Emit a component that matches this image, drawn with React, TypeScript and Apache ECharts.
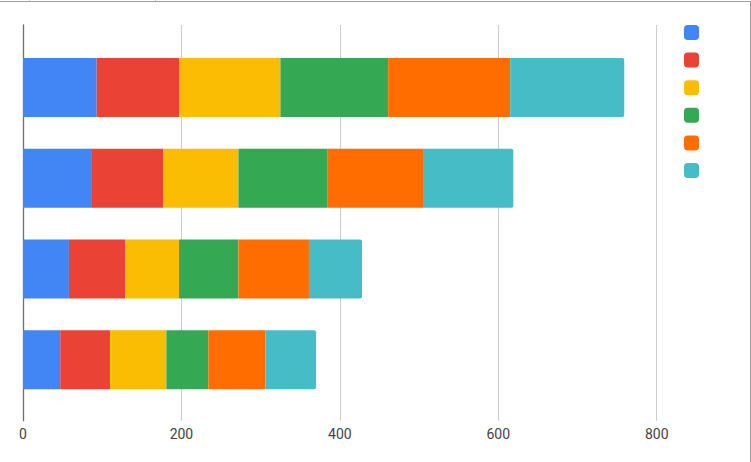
import React, { useEffect, useRef } from "react";
import * as echarts from "echarts";

const categories = ["Row 1", "Row 2", "Row 3", "Row 4"];
const seriesNames = ["Series 1", "Series 2", "Series 3", "Series 4", "Series 5", "Series 6"];
const seriesColors = ["#4285F4", "#EA4335", "#FBBC04", "#34A853", "#FF6D01", "#46BDC6"];
const series1 = [93, 86, 58, 47];
const series2 = [104, 91, 71, 63];
const series3 = [128, 95, 68, 71];
const series4 = [136, 112, 75, 53];
const series5 = [154, 121, 89, 72];
const series6 = [144, 114, 67, 64];
const seriesValues = [series1, series2, series3, series4, series5, series6];
const xTicks = [0, 200, 400, 600, 800];

export default function App() {
  const ref = useRef<HTMLDivElement>(null);
  useEffect(() => {
    if (!ref.current) return;
    const chart = echarts.init(ref.current, null, { renderer: "svg" });
    const gridLeft = 23;
    const gridRight = 94.3;
    chart.setOption({
      animation: false,
      backgroundColor: "#ffffff",
      grid: [
        { left: gridLeft, right: gridRight, top: 25, bottom: 41.3 },
        { left: gridLeft, right: gridRight, top: 42.2, bottom: 57 },
      ],
      xAxis: [
        {
          type: "value",
          gridIndex: 0,
          min: xTicks[0],
          max: xTicks[xTicks.length - 1],
          interval: xTicks[1] - xTicks[0],
          axisLine: { show: false },
          axisTick: { show: false },
          splitLine: { show: true, lineStyle: { color: "#cccccc", width: 1 } },
          axisLabel: {
            margin: 6,
            color: "#444444",
            fontFamily: "Roboto",
            fontSize: 14,
          },
        },
        {
          type: "value",
          gridIndex: 1,
          min: xTicks[0],
          max: xTicks[xTicks.length - 1],
          show: false,
        },
      ],
      yAxis: [
        {
          type: "value",
          gridIndex: 0,
          min: 0,
          max: 1,
          axisLine: { show: true, lineStyle: { color: "#6f6f6f", width: 1.3 } },
          axisTick: { show: false },
          axisLabel: { show: false },
          splitLine: { show: false },
        },
        {
          type: "category",
          gridIndex: 1,
          data: categories,
          inverse: true,
          show: false,
        },
      ],
      legend: {
        orient: "vertical",
        left: 684,
        top: 25,
        padding: 0,
        itemWidth: 15,
        itemHeight: 15,
        itemGap: 12.6,
        icon: "roundRect",
        formatter: () => "",
        textStyle: { fontSize: 8 },
        data: seriesNames,
        selectedMode: false,
      },
      series: seriesNames.map((name, i) => ({
        name,
        type: "bar",
        stack: "total",
        xAxisIndex: 1,
        yAxisIndex: 1,
        barWidth: 59,
        data: seriesValues[i],
        itemStyle: {
          color: seriesColors[i],
          borderRadius: i === seriesNames.length - 1 ? [0, 2, 2, 0] : 0,
        },
      })),
      graphic: [
        { type: "line", shape: { x1: 0, y1: 1.5, x2: 751, y2: 1.5 }, style: { stroke: "#9e9e9e", lineWidth: 1 } },
        { type: "line", shape: { x1: 750.5, y1: 1, x2: 750.5, y2: 462 }, style: { stroke: "#9e9e9e", lineWidth: 1 } },
        { type: "line", shape: { x1: 29.5, y1: 0, x2: 29.5, y2: 1 }, style: { stroke: "#cfcfcf", lineWidth: 1 } },
        { type: "line", shape: { x1: 155.5, y1: 0, x2: 155.5, y2: 1 }, style: { stroke: "#cfcfcf", lineWidth: 1 } },
      ],
    });
    return () => chart.dispose();
  }, []);
  return (
    <div
      ref={ref}
      style={{ position: "fixed", left: 0, top: 0, width: 751, height: 462 }}
    />
  );
}
